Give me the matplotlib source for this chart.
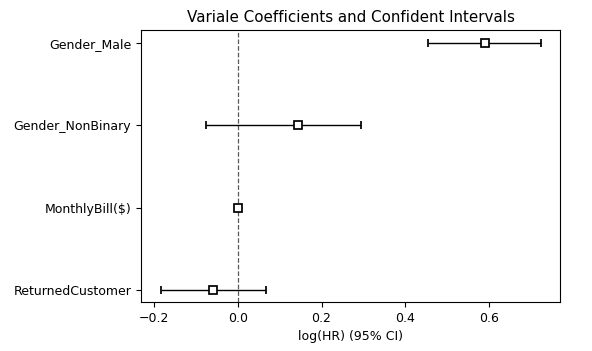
import matplotlib
matplotlib.use("Agg")
import matplotlib.pyplot as plt
import numpy as np

# covariates, top to bottom
names = ["Gender_Male", "Gender_NonBinary", "MonthlyBill($)", "ReturnedCustomer"]
coef = [0.590, 0.143, 0.0005, -0.060]
lower = [0.455, -0.076, -0.001, -0.183]
upper = [0.724, 0.293, 0.002, 0.067]

fig = plt.figure(figsize=(5.92, 3.51), dpi=100)
ax = fig.add_axes([0.238, 0.140, 0.708, 0.775])

ypos = np.arange(len(names))[::-1]
c = np.array(coef)
err = np.array([c - np.array(lower), np.array(upper) - c])
ax.errorbar(c, ypos, xerr=err, fmt="s", color="k", markerfacecolor="white",
            markeredgewidth=1.25, elinewidth=1.0, capsize=3, markersize=6)
ax.axvline(0, ls="--", color="k", alpha=0.65, lw=0.9)

ax.set_yticks(ypos)
ax.set_yticklabels(names, fontsize=9)
ax.set_xticks([-0.2, 0.0, 0.2, 0.4, 0.6])
ax.tick_params(axis="x", labelsize=9)
ax.set_xlim(-0.231, 0.769)
ax.set_ylim(-0.146, 3.16)
ax.set_xlabel("log(HR) (95% CI)", fontsize=9)
ax.set_title("Variale Coefficients and Confident Intervals", fontsize=10.9)

fig.savefig("out.png", dpi=100)
